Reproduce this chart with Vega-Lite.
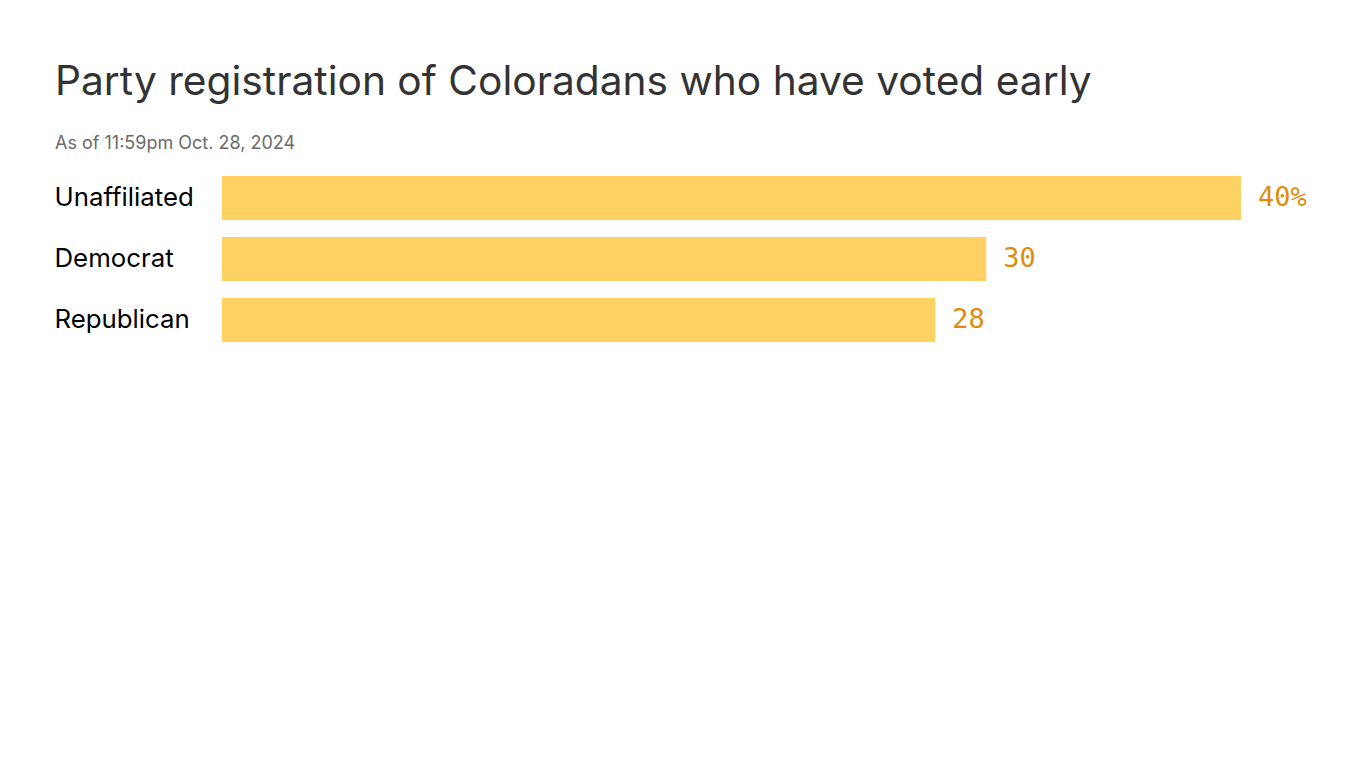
{
  "$schema": "https://vega.github.io/schema/vega-lite/v6.json",
  "autosize": {"type": "none"},
  "padding": {"left": 222, "top": 176, "right": 125, "bottom": 426},
  "width": 1019,
  "height": 166,
  "background": "#ffffff",
  "title": {
    "text": "Party registration of Coloradans who have voted early",
    "subtitle": "As of 11:59pm Oct. 28, 2024",
    "anchor": "start",
    "frame": "group",
    "dx": -167,
    "offset": 22,
    "font": "Inter",
    "fontSize": 40.7,
    "fontWeight": 400,
    "color": "#333333",
    "subtitleFont": "Inter",
    "subtitleFontSize": 18,
    "subtitleColor": "#6b6b6b",
    "subtitlePadding": 31
  },
  "data": {
    "values": [
      {"party": "Unaffiliated", "share": 40, "label": "40%"},
      {"party": "Democrat", "share": 30, "label": "30"},
      {"party": "Republican", "share": 28, "label": "28"}
    ]
  },
  "encoding": {
    "y": {
      "field": "party",
      "type": "nominal",
      "sort": null,
      "scale": {"paddingInner": 0.2787, "paddingOuter": 0},
      "axis": {
        "title": null,
        "domain": false,
        "ticks": false,
        "labelAlign": "left",
        "labelPadding": 168,
        "labelFont": "Inter",
        "labelFontSize": 25.8,
        "labelColor": "#000000"
      }
    },
    "x": {
      "field": "share",
      "type": "quantitative",
      "scale": {"domain": [0, 40], "nice": false},
      "axis": null
    }
  },
  "layer": [
    {"mark": {"type": "bar", "color": "#ffd163", "cornerRadius": 0}},
    {
      "mark": {
        "type": "text",
        "align": "left",
        "baseline": "middle",
        "dx": 17,
        "font": "DejaVu Sans Mono",
        "fontSize": 27,
        "color": "#e08c0a"
      },
      "encoding": {"text": {"field": "label"}}
    }
  ],
  "config": {"view": {"stroke": null}}
}
